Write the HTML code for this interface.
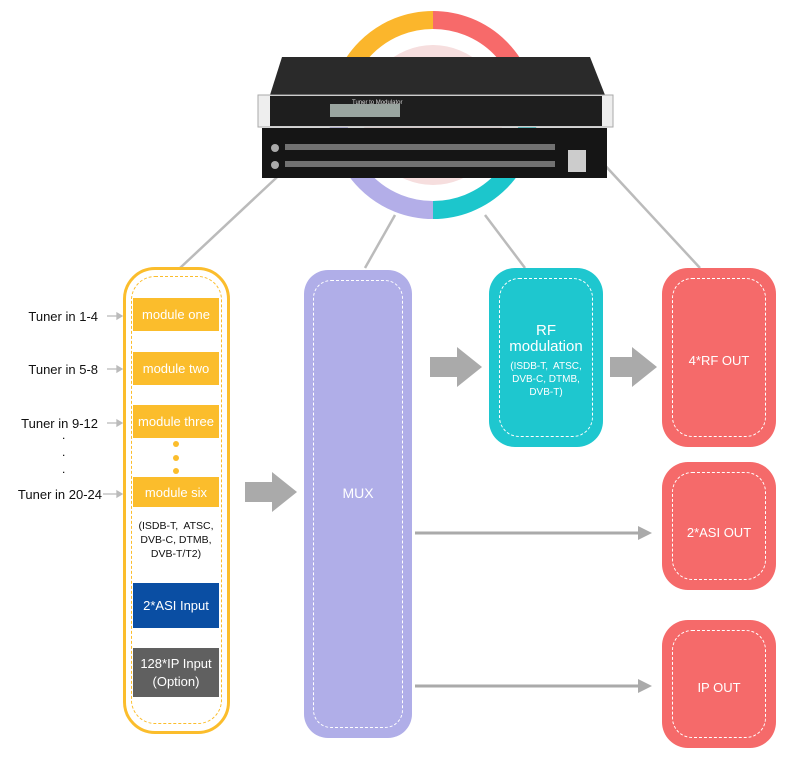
<!DOCTYPE html>
<html><head><style>
body{margin:0;width:800px;height:765px;background:#fff;position:relative;overflow:hidden;font-family:"Liberation Sans",sans-serif}
.a{position:absolute}
.rr{position:absolute;box-sizing:border-box}
.dash{position:absolute;border:1.5px dashed #fff;box-sizing:border-box}
.mod{position:absolute;left:133px;width:86px;background:#fbbd2c;color:#fff;font-size:13px;display:flex;align-items:center;justify-content:center;white-space:nowrap}
.tl{position:absolute;right:702px;font-size:13px;color:#111;white-space:nowrap}
.lbl{position:absolute;color:#fff;text-align:center;font-size:13px}
</style></head><body>
<svg class="a" style="left:0;top:0" width="800" height="765">
<circle cx="433" cy="115" r="70" fill="#f6dede"/>
<path d="M433 20 A95 95 0 0 0 338 115" stroke="#fbb62c" stroke-width="18" fill="none"/>
<path d="M433 20 A95 95 0 0 1 528 115" stroke="#f76a6a" stroke-width="18" fill="none"/>
<path d="M338 115 A95 95 0 0 0 433 210" stroke="#b3aee8" stroke-width="18" fill="none"/>
<path d="M528 115 A95 95 0 0 1 433 210" stroke="#1cc6cc" stroke-width="18" fill="none"/>
<g stroke="#bbb" stroke-width="2.5">
<line x1="290" y1="165" x2="180" y2="268"/><line x1="395" y1="215" x2="365" y2="268"/>
<line x1="485" y1="215" x2="525" y2="268"/><line x1="600" y1="160" x2="700" y2="268"/>
</g>
<polygon points="282,57 590,57 605,95 270,95" fill="#2a2a2a"/>
<rect x="258" y="95" width="355" height="32" fill="#eee" stroke="#aaa"/>
<rect x="270" y="96" width="332" height="30" fill="#1e1e1e"/>
<rect x="330" y="104" width="70" height="13" fill="#9aa5a0"/>
<rect x="262" y="128" width="345" height="50" fill="#151515"/>
<g fill="#aaa">
<circle cx="275" cy="148" r="4"/><circle cx="275" cy="165" r="4"/>
<rect x="568" y="150" width="18" height="22" fill="#ccc"/>
</g>
<g fill="#999">
<rect x="285" y="144" width="270" height="6" opacity=".7"/>
<rect x="285" y="161" width="270" height="6" opacity=".7"/>
</g>
<g fill="#aaa" stroke="none">
<path d="M245 482 h27 v-10 l25 20 l-25 20 v-10 h-27z"/>
<path d="M430 357 h27 v-10 l25 20 l-25 20 v-10 h-27z"/>
<path d="M610 357 h22 v-10 l25 20 l-25 20 v-10 h-22z"/>
</g>
<g stroke="#aaa" stroke-width="3" fill="#aaa">
<line x1="415" y1="533" x2="640" y2="533"/><path d="M638 526 l14 7 l-14 7z" stroke="none"/>
<line x1="415" y1="686" x2="640" y2="686"/><path d="M638 679 l14 7 l-14 7z" stroke="none"/>
</g>
<g stroke="#bbb" stroke-width="1.3" fill="#bbb">
<line x1="107" y1="316" x2="118" y2="316"/><path d="M117 313 l5 3 l-5 3z"/>
<line x1="107" y1="369" x2="118" y2="369"/><path d="M117 366 l5 3 l-5 3z"/>
<line x1="107" y1="423" x2="118" y2="423"/><path d="M117 420 l5 3 l-5 3z"/>
<line x1="103" y1="494" x2="118" y2="494"/><path d="M117 491 l5 3 l-5 3z"/>
</g>
</svg>
<div class="rr" style="left:123px;top:267px;width:107px;height:467px;border:3px solid #fbbd2c;border-radius:32px"></div>
<div class="dash" style="left:131px;top:276px;width:91px;height:448px;border-color:#fbbd2c;border-radius:24px"></div>
<div class="mod" style="top:298px;height:33px">module one</div>
<div class="mod" style="top:352px;height:33px">module two</div>
<div class="mod" style="top:405px;height:33px">module three</div>
<div class="a" style="left:173px;top:441px;width:6px;height:6px;border-radius:3px;background:#fbbd2c"></div>
<div class="a" style="left:173px;top:455px;width:6px;height:6px;border-radius:3px;background:#fbbd2c"></div>
<div class="a" style="left:173px;top:468px;width:6px;height:6px;border-radius:3px;background:#fbbd2c"></div>
<div class="mod" style="top:477px;height:30px">module six</div>
<div class="a" style="left:130px;top:519px;width:92px;text-align:center;font-size:10.5px;line-height:14px;color:#111">(ISDB-T,&nbsp; ATSC,<br>DVB-C, DTMB,<br>DVB-T/T2)</div>
<div class="mod" style="top:583px;height:45px;background:#0a4ea3">2*ASI Input</div>
<div class="mod" style="top:648px;height:49px;background:#606060;line-height:18px;text-align:center">128*IP Input<br>(Option)</div>
<div class="tl" style="top:309px">Tuner in 1-4</div>
<div class="tl" style="top:362px">Tuner in 5-8</div>
<div class="tl" style="top:416px">Tuner in 9-12</div>
<div class="a" style="left:62px;top:427px;font-size:12px;line-height:17px">.<br>.<br>.</div>
<div class="tl" style="top:487px;right:698px">Tuner in 20-24</div>
<div class="rr" style="left:304px;top:270px;width:108px;height:468px;background:#b0aee8;border-radius:24px"></div>
<div class="dash" style="left:313px;top:280px;width:90px;height:448px;border-radius:18px"></div>
<div class="lbl" style="left:304px;top:485px;width:108px;font-size:14px">MUX</div>
<div class="rr" style="left:489px;top:268px;width:114px;height:179px;background:#1ec7cf;border-radius:26px"></div>
<div class="dash" style="left:499px;top:278px;width:94px;height:159px;border-radius:20px"></div>
<div class="lbl" style="left:489px;top:323px;width:114px;font-size:15px;line-height:16px">RF<br>modulation</div>
<div class="lbl" style="left:489px;top:360px;width:114px;font-size:10px;line-height:13px">(ISDB-T,&nbsp; ATSC,<br>DVB-C, DTMB,<br>DVB-T)</div>
<div class="rr" style="left:662px;top:268px;width:114px;height:179px;background:#f56a6a;border-radius:26px"></div>
<div class="dash" style="left:672px;top:278px;width:94px;height:159px;border-radius:20px"></div>
<div class="lbl" style="left:662px;top:353px;width:114px">4*RF OUT</div>
<div class="rr" style="left:662px;top:462px;width:114px;height:128px;background:#f56a6a;border-radius:26px"></div>
<div class="dash" style="left:672px;top:472px;width:94px;height:108px;border-radius:20px"></div>
<div class="lbl" style="left:662px;top:525px;width:114px">2*ASI OUT</div>
<div class="rr" style="left:662px;top:620px;width:114px;height:128px;background:#f56a6a;border-radius:26px"></div>
<div class="dash" style="left:672px;top:630px;width:94px;height:108px;border-radius:20px"></div>
<div class="lbl" style="left:662px;top:680px;width:114px">IP OUT</div>
<div class="a" style="left:352px;top:100px;font-size:6px;color:#ddd">Tuner to Modulator</div>
</body></html>
